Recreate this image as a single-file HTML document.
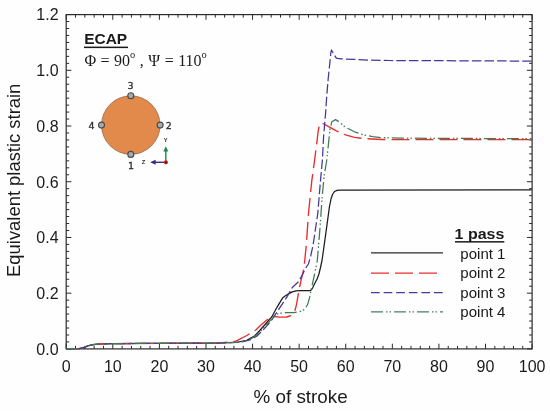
<!DOCTYPE html>
<html><head><meta charset="utf-8"><title>ECAP equivalent plastic strain</title>
<style>html,body{margin:0;padding:0;background:#fefefe;}svg{display:block}</style></head>
<body><svg width="550" height="411" viewBox="0 0 550 411">
<rect width="550" height="411" fill="#fefefe"/>
<rect x="66.2" y="14.6" width="465.90000000000003" height="334.29999999999995" fill="none" stroke="#2a2a2a" stroke-width="1.2"/>
<path d="M66.20,348.9 v-5.2 M66.20,14.6 v5.2 M75.52,348.9 v-3.0 M75.52,14.6 v3.0 M84.84,348.9 v-3.0 M84.84,14.6 v3.0 M94.15,348.9 v-3.0 M94.15,14.6 v3.0 M103.47,348.9 v-3.0 M103.47,14.6 v3.0 M112.79,348.9 v-5.2 M112.79,14.6 v5.2 M122.11,348.9 v-3.0 M122.11,14.6 v3.0 M131.43,348.9 v-3.0 M131.43,14.6 v3.0 M140.74,348.9 v-3.0 M140.74,14.6 v3.0 M150.06,348.9 v-3.0 M150.06,14.6 v3.0 M159.38,348.9 v-5.2 M159.38,14.6 v5.2 M168.70,348.9 v-3.0 M168.70,14.6 v3.0 M178.02,348.9 v-3.0 M178.02,14.6 v3.0 M187.33,348.9 v-3.0 M187.33,14.6 v3.0 M196.65,348.9 v-3.0 M196.65,14.6 v3.0 M205.97,348.9 v-5.2 M205.97,14.6 v5.2 M215.29,348.9 v-3.0 M215.29,14.6 v3.0 M224.61,348.9 v-3.0 M224.61,14.6 v3.0 M233.92,348.9 v-3.0 M233.92,14.6 v3.0 M243.24,348.9 v-3.0 M243.24,14.6 v3.0 M252.56,348.9 v-5.2 M252.56,14.6 v5.2 M261.88,348.9 v-3.0 M261.88,14.6 v3.0 M271.20,348.9 v-3.0 M271.20,14.6 v3.0 M280.51,348.9 v-3.0 M280.51,14.6 v3.0 M289.83,348.9 v-3.0 M289.83,14.6 v3.0 M299.15,348.9 v-5.2 M299.15,14.6 v5.2 M308.47,348.9 v-3.0 M308.47,14.6 v3.0 M317.79,348.9 v-3.0 M317.79,14.6 v3.0 M327.10,348.9 v-3.0 M327.10,14.6 v3.0 M336.42,348.9 v-3.0 M336.42,14.6 v3.0 M345.74,348.9 v-5.2 M345.74,14.6 v5.2 M355.06,348.9 v-3.0 M355.06,14.6 v3.0 M364.38,348.9 v-3.0 M364.38,14.6 v3.0 M373.69,348.9 v-3.0 M373.69,14.6 v3.0 M383.01,348.9 v-3.0 M383.01,14.6 v3.0 M392.33,348.9 v-5.2 M392.33,14.6 v5.2 M401.65,348.9 v-3.0 M401.65,14.6 v3.0 M410.97,348.9 v-3.0 M410.97,14.6 v3.0 M420.28,348.9 v-3.0 M420.28,14.6 v3.0 M429.60,348.9 v-3.0 M429.60,14.6 v3.0 M438.92,348.9 v-5.2 M438.92,14.6 v5.2 M448.24,348.9 v-3.0 M448.24,14.6 v3.0 M457.56,348.9 v-3.0 M457.56,14.6 v3.0 M466.87,348.9 v-3.0 M466.87,14.6 v3.0 M476.19,348.9 v-3.0 M476.19,14.6 v3.0 M485.51,348.9 v-5.2 M485.51,14.6 v5.2 M494.83,348.9 v-3.0 M494.83,14.6 v3.0 M504.15,348.9 v-3.0 M504.15,14.6 v3.0 M513.46,348.9 v-3.0 M513.46,14.6 v3.0 M522.78,348.9 v-3.0 M522.78,14.6 v3.0 M532.10,348.9 v-5.2 M532.10,14.6 v5.2 M66.2,348.90 h5.2 M532.1,348.90 h-5.2 M66.2,341.94 h3.0 M532.1,341.94 h-3.0 M66.2,334.97 h3.0 M532.1,334.97 h-3.0 M66.2,328.00 h3.0 M532.1,328.00 h-3.0 M66.2,321.04 h3.0 M532.1,321.04 h-3.0 M66.2,314.07 h3.0 M532.1,314.07 h-3.0 M66.2,307.11 h3.0 M532.1,307.11 h-3.0 M66.2,300.14 h3.0 M532.1,300.14 h-3.0 M66.2,293.18 h5.2 M532.1,293.18 h-5.2 M66.2,286.21 h3.0 M532.1,286.21 h-3.0 M66.2,279.25 h3.0 M532.1,279.25 h-3.0 M66.2,272.28 h3.0 M532.1,272.28 h-3.0 M66.2,265.32 h3.0 M532.1,265.32 h-3.0 M66.2,258.35 h3.0 M532.1,258.35 h-3.0 M66.2,251.39 h3.0 M532.1,251.39 h-3.0 M66.2,244.42 h3.0 M532.1,244.42 h-3.0 M66.2,237.46 h5.2 M532.1,237.46 h-5.2 M66.2,230.49 h3.0 M532.1,230.49 h-3.0 M66.2,223.53 h3.0 M532.1,223.53 h-3.0 M66.2,216.56 h3.0 M532.1,216.56 h-3.0 M66.2,209.60 h3.0 M532.1,209.60 h-3.0 M66.2,202.63 h3.0 M532.1,202.63 h-3.0 M66.2,195.67 h3.0 M532.1,195.67 h-3.0 M66.2,188.70 h3.0 M532.1,188.70 h-3.0 M66.2,181.74 h5.2 M532.1,181.74 h-5.2 M66.2,174.77 h3.0 M532.1,174.77 h-3.0 M66.2,167.81 h3.0 M532.1,167.81 h-3.0 M66.2,160.84 h3.0 M532.1,160.84 h-3.0 M66.2,153.88 h3.0 M532.1,153.88 h-3.0 M66.2,146.91 h3.0 M532.1,146.91 h-3.0 M66.2,139.95 h3.0 M532.1,139.95 h-3.0 M66.2,132.98 h3.0 M532.1,132.98 h-3.0 M66.2,126.02 h5.2 M532.1,126.02 h-5.2 M66.2,119.05 h3.0 M532.1,119.05 h-3.0 M66.2,112.09 h3.0 M532.1,112.09 h-3.0 M66.2,105.12 h3.0 M532.1,105.12 h-3.0 M66.2,98.16 h3.0 M532.1,98.16 h-3.0 M66.2,91.19 h3.0 M532.1,91.19 h-3.0 M66.2,84.23 h3.0 M532.1,84.23 h-3.0 M66.2,77.26 h3.0 M532.1,77.26 h-3.0 M66.2,70.30 h5.2 M532.1,70.30 h-5.2 M66.2,63.33 h3.0 M532.1,63.33 h-3.0 M66.2,56.37 h3.0 M532.1,56.37 h-3.0 M66.2,49.40 h3.0 M532.1,49.40 h-3.0 M66.2,42.44 h3.0 M532.1,42.44 h-3.0 M66.2,35.47 h3.0 M532.1,35.47 h-3.0 M66.2,28.51 h3.0 M532.1,28.51 h-3.0 M66.2,21.54 h3.0 M532.1,21.54 h-3.0 M66.2,14.58 h5.2 M532.1,14.58 h-5.2" stroke="#2a2a2a" stroke-width="1" fill="none"/>
<g fill="none" stroke-width="1.25" stroke-linejoin="round">
<path d="M66.1,348.6 L79.0,348.6 L83.0,347.8 L88.0,345.8 L93.0,344.6 L100.0,344.0 L114.0,343.6 L160.0,343.3 L220.0,343.0 L236.0,342.5 L246.8,340.4 L254.8,335.8 L260.2,330.0 L266.0,323.5 L271.9,316.7 L276.0,309.0 L279.2,303.6 L282.8,297.7 L285.8,295.5 L289.0,293.6 L292.3,291.9 L296.0,290.9 L300.0,290.7 L310.0,290.7 L311.5,289.8 L312.8,287.5 L315.0,283.0 L317.2,278.8 L318.8,274.5 L320.4,268.0 L321.9,261.0 L323.3,251.5 L326.4,229.1 L329.4,207.0 L331.0,199.0 L332.5,194.5 L334.5,191.5 L337.0,190.4 L340.0,190.1 L531.6,189.9" stroke="#1c1c1c"/>
<path d="M66.1,348.6 L79.0,348.6 L83.0,347.8 L88.0,345.8 L93.0,344.6 L100.0,344.0 L114.0,343.6 L160.0,343.3 L220.0,342.8 L236.0,341.2 L246.8,335.5 L255.8,330.0 L261.0,325.0 L267.5,319.6 L273.4,316.2 L279.2,317.2 L286.5,317.0 L290.0,316.0 L292.3,314.5 L294.0,312.3 L295.3,309.4 L296.7,303.6 L298.9,290.4 L301.4,278.8 L304.0,268.0 L306.3,245.0 L308.5,213.3 L311.7,181.6 L314.6,160.0 L316.5,145.5 L318.2,130.9 L319.6,123.8 L321.8,123.1 L327.3,125.8 L336.4,130.9 L345.5,134.9 L354.5,137.3 L363.6,138.5 L381.8,139.5 L400.0,139.6 L531.6,139.6" stroke="#ea2c2c" stroke-width="1.35" stroke-dasharray="18 6"/>
<path d="M66.1,348.6 L79.0,348.6 L83.0,347.8 L88.0,345.8 L93.0,344.6 L100.0,344.0 L114.0,343.6 L160.0,343.3 L220.0,343.0 L240.0,342.2 L250.0,340.0 L257.0,336.0 L263.1,330.0 L270.4,321.8 L279.2,308.7 L286.5,297.7 L292.3,287.5 L298.6,281.7 L302.6,274.4 L305.1,269.0 L308.4,264.0 L310.7,256.0 L313.1,245.0 L317.8,213.3 L320.4,181.6 L322.4,160.0 L323.6,136.4 L325.5,114.5 L326.8,95.0 L328.2,78.8 L329.7,64.2 L330.9,52.5 L331.5,50.0 L334.1,54.7 L336.3,58.1 L340.7,58.8 L353.8,59.4 L368.4,60.1 L390.0,60.5 L531.6,61.1" stroke="#46369a" stroke-dasharray="9.5 3.1"/>
<path d="M66.1,348.6 L79.0,348.6 L83.0,347.8 L88.0,345.8 L93.0,344.6 L100.0,344.0 L114.0,343.6 L160.0,343.3 L220.0,343.0 L240.0,342.2 L250.0,339.5 L256.0,335.5 L261.7,330.0 L270.4,320.4 L277.7,313.8 L283.6,312.6 L293.8,312.6 L299.6,311.6 L304.7,309.4 L307.7,304.3 L309.9,296.3 L311.3,289.0 L313.9,277.3 L317.3,260.8 L319.9,229.1 L322.1,197.5 L324.2,175.3 L326.8,160.0 L328.3,145.5 L330.0,129.1 L331.8,121.8 L335.5,119.6 L339.1,121.8 L345.5,127.3 L354.5,131.8 L363.6,134.9 L372.7,136.7 L381.8,137.6 L400.0,138.1 L430.0,138.4 L531.6,138.6" stroke="#3f7a55" stroke-dasharray="12 3 1.5 2 1.5 3"/>
</g>
<g font-family="'Liberation Sans', sans-serif" font-size="16" fill="#1a1a1a"><text x="66.2" y="372" text-anchor="middle">0</text><text x="112.8" y="372" text-anchor="middle">10</text><text x="159.4" y="372" text-anchor="middle">20</text><text x="206.0" y="372" text-anchor="middle">30</text><text x="252.6" y="372" text-anchor="middle">40</text><text x="299.1" y="372" text-anchor="middle">50</text><text x="345.7" y="372" text-anchor="middle">60</text><text x="392.3" y="372" text-anchor="middle">70</text><text x="438.9" y="372" text-anchor="middle">80</text><text x="485.5" y="372" text-anchor="middle">90</text><text x="532.1" y="372" text-anchor="middle">100</text><text x="58.6" y="354.7" text-anchor="end">0.0</text><text x="58.6" y="299.0" text-anchor="end">0.2</text><text x="58.6" y="243.3" text-anchor="end">0.4</text><text x="58.6" y="187.5" text-anchor="end">0.6</text><text x="58.6" y="131.8" text-anchor="end">0.8</text><text x="58.6" y="76.1" text-anchor="end">1.0</text><text x="58.6" y="20.4" text-anchor="end">1.2</text></g>
<g font-family="'Liberation Sans', sans-serif" fill="#1a1a1a">
<text x="300.6" y="402.7" font-size="18.85" text-anchor="middle">% of stroke</text>
<text transform="translate(19.5,180.3) rotate(-90)" font-size="18.4" text-anchor="middle">Equivalent plastic strain</text>
<text x="84.2" y="44.3" font-size="14.6" font-weight="bold" textLength="43" lengthAdjust="spacingAndGlyphs">ECAP</text>
<rect x="84" y="46.6" width="44" height="1.5"/>
<text x="454.6" y="239" font-size="14.8" font-weight="bold" textLength="49.8" lengthAdjust="spacingAndGlyphs">1 pass</text>
<rect x="455" y="241.1" width="49.3" height="1.5"/>
<text x="460.3" y="258.7" font-size="14.6" textLength="45.2" lengthAdjust="spacingAndGlyphs">point 1</text>
<text x="460.3" y="278.3" font-size="14.6" textLength="45.2" lengthAdjust="spacingAndGlyphs">point 2</text>
<text x="460.3" y="297.9" font-size="14.6" textLength="45.2" lengthAdjust="spacingAndGlyphs">point 3</text>
<text x="460.3" y="317.3" font-size="14.6" textLength="45.2" lengthAdjust="spacingAndGlyphs">point 4</text>
</g>
<text x="84.4" y="65.7" font-family="'Liberation Serif', serif" font-size="16" word-spacing="0.5" fill="#1a1a1a">Φ = 90<tspan dy="-7.7" font-size="10.5">o</tspan><tspan dy="7.7"> , Ψ = 110</tspan><tspan dy="-7.7" font-size="10.5">o</tspan></text>
<g fill="none" stroke-width="1.2">
<path d="M371,252.8 H443" stroke="#2a2a2a"/>
<path d="M371,273.2 H443" stroke="#ea2c2c" stroke-dasharray="18 6"/>
<path d="M371,292.7 H443" stroke="#4a3a9c" stroke-dasharray="8.7 3.9"/>
<path d="M371,311.9 H443" stroke="#4a8060" stroke-dasharray="12 3 1.5 2 1.5 3"/>
</g>
<circle cx="130.8" cy="125.1" r="29.3" fill="#e18a4c" stroke="#7a5030" stroke-width="0.6"/>
<circle cx="130.8" cy="95.8" r="3.0" fill="#a6aaae" stroke="#4a4a4a" stroke-width="1.1"/>
<circle cx="160.1" cy="125.1" r="3.0" fill="#a6aaae" stroke="#4a4a4a" stroke-width="1.1"/>
<circle cx="130.8" cy="154.4" r="3.0" fill="#a6aaae" stroke="#4a4a4a" stroke-width="1.1"/>
<circle cx="101.5" cy="125.1" r="3.0" fill="#a6aaae" stroke="#4a4a4a" stroke-width="1.1"/>
<g font-family="'DejaVu Sans', 'Liberation Sans', sans-serif" font-size="9.5" fill="#2e2e2e" stroke="#2e2e2e" stroke-width="0.3" text-anchor="middle">
<text x="130.4" y="89.4">3</text><text x="168.8" y="128.5">2</text><text x="130.9" y="168.8">1</text><text x="91.6" y="128.5">4</text>
</g>
<path d="M165.8,162.3 V151" stroke="#1a8a4a" stroke-width="1.4"/><path d="M165.8,146.2 l2.5,5.4 h-5z" fill="#1a8a4a"/>
<path d="M165.8,162.3 H155" stroke="#3c2a84" stroke-width="1.4"/><path d="M150.2,162.3 l5.4,-2.5 v5z" fill="#3c2a84"/>
<circle cx="165.9" cy="162.3" r="2.1" fill="#c42a1e"/><circle cx="165.9" cy="162.3" r="0.9" fill="#3a1010"/>
<g font-family="'Liberation Sans', sans-serif" font-size="5.8" font-weight="bold" fill="#2a2a2a" text-anchor="middle"><text x="165.8" y="141.5">Y</text><text x="143.4" y="163.8">Z</text></g>
</svg></body></html>
